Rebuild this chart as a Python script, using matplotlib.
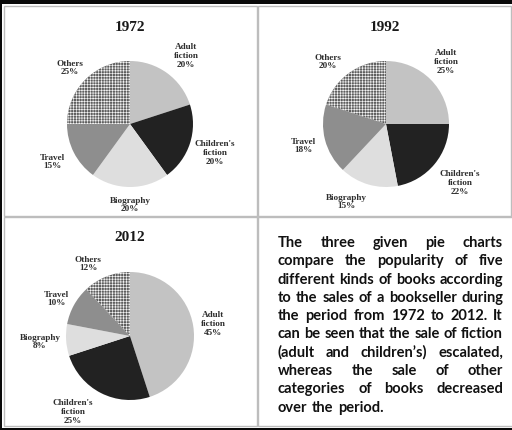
import matplotlib
matplotlib.use('Agg')
import matplotlib.pyplot as plt
from matplotlib.patches import Rectangle

# data
categories = ['Adult fiction', "Children's fiction", 'Biography', 'Travel', 'Others']
years = ['1972', '1992', '2012']
share_1972 = [20, 20, 20, 15, 25]
share_1992 = [25, 22, 15, 18, 20]
share_2012 = [45, 25, 8, 10, 12]
label_names = ['Adult\nfiction', "Children's\nfiction", 'Biography', 'Travel', 'Others']

paragraph = [
    'The three given pie charts',
    'compare the popularity of five',
    'different kinds of books according',
    'to the sales of a bookseller during',
    'the period from 1972 to 2012. It',
    'can be seen that the sale of fiction',
    '(adult and children\u2019s) escalated,',
    'whereas the sale of other',
    'categories of books decreased',
    'over the period.',
]

colors = ['#c3c3c3', '#222222', '#dedede', '#8e8e8e', '#5e5e5e']

W, H = 512, 431
fig = plt.figure(figsize=(W / 100, H / 100), dpi=100)
fig.patch.set_facecolor('white')
plt.rcParams['hatch.linewidth'] = 0.45

def fx(x):
    return x / W

def fy(y):
    return 1 - y / H

# outer black frame and gray panel lines (pixel coords)
def rect_px(x0, y0, x1, y1, **kw):
    fig.patches.append(Rectangle((fx(x0), fy(y1)), (x1 - x0) / W, (y1 - y0) / H,
                                 transform=fig.transFigure, figure=fig, **kw))

rect_px(0, 0, W, 5, color='#0a0a0a', lw=0)
rect_px(0, 0, 2, H, color='#0a0a0a', lw=0)
rect_px(0, 429, W, H, color='#0a0a0a', lw=0)
line_kw = dict(fill=False, edgecolor='#bdbdbd', lw=1.0)
rect_px(3.5, 7, 257, 217, **line_kw)
rect_px(258, 7, 511, 217, **line_kw)
rect_px(3.5, 218, 257, 426.5, **line_kw)
rect_px(258, 218, 513, 426.5, **line_kw)

# pie placement (pixel centre, radius) and label positions
pies = [
    (share_1972, (130, 125, 63), (130, 28),
     [(186, 56), (215, 153), (130, 205), (52, 162), (70, 68)]),
    (share_1992, (386, 125, 63), (385, 28),
     [(446, 62), (460, 183), (346, 202), (303, 146), (328, 62)]),
    (share_2012, (130, 337, 64), (130, 238),
     [(213, 324), (73, 412), (40, 342), (56, 299), (88, 264)]),
]

serif = 'Liberation Serif'
for (vals, (cx, cy, r), tpos, lpos), yr in zip(pies, years):
    ax = fig.add_axes([fx(cx - r), fy(cy + r), 2 * r / W, 2 * r / H])
    wedges, _ = ax.pie(vals, startangle=90, counterclock=False, colors=colors,
                       wedgeprops=dict(linewidth=0))
    wedges[4].set_hatch('++++++')
    wedges[4].set_edgecolor('#f4f4f4')
    wedges[4].set_linewidth(0)
    ax.set_xlim(-1, 1)
    ax.set_ylim(-1, 1)
    ax.axis('off')
    fig.text(fx(tpos[0]), fy(tpos[1]), yr, ha='center', va='center',
             fontsize=11, fontweight='bold', family=serif, color='#1a1a1a')
    for name, v, (lx, ly) in zip(label_names, vals, lpos):
        fig.text(fx(lx), fy(ly), f'{name}\n{v}%', ha='center', va='center',
                 fontsize=6.6, fontweight='bold', family=serif, color='#2e2e2e',
                 linespacing=1.1)

# justified paragraph
renderer = fig.canvas.get_renderer()
left, right = 278, 503
y0, step = 243, 18.3
fsize = 10.5
for i, line in enumerate(paragraph):
    words = line.split(' ')
    y = y0 + i * step
    objs = [fig.text(0, fy(y), w, ha='left', va='center', fontsize=fsize,
                     fontweight='bold', family='Lato', color='#111111') for w in words]
    widths = [o.get_window_extent(renderer).width for o in objs]
    if i == len(paragraph) - 1:
        gap = 4.5
    else:
        gap = (right - left - sum(widths)) / (len(words) - 1)
    x = left
    for o, w in zip(objs, widths):
        o.set_x(fx(x))
        x += w + gap

fig.savefig('out.png', dpi=100, facecolor='white')
